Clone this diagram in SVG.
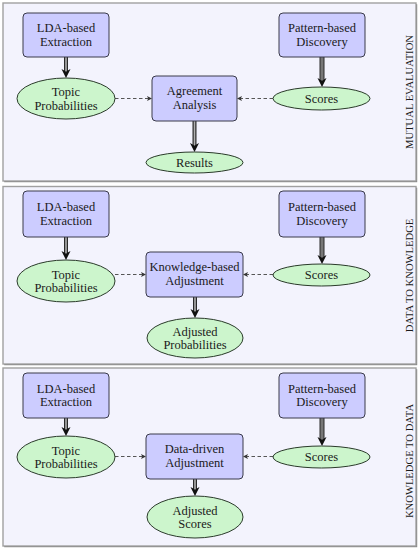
<svg xmlns="http://www.w3.org/2000/svg" width="420" height="550" viewBox="0 0 420 550">
<defs>
<marker id="ah" markerUnits="userSpaceOnUse" markerWidth="12" markerHeight="12" viewBox="-1 -6 12 12" refX="2" refY="0" orient="auto">
<path d="M0,-4.5 L9,0 L0,4.5 L2.5,0 Z" fill="#111"/>
</marker>
<marker id="ahs" markerUnits="userSpaceOnUse" markerWidth="8" markerHeight="8" viewBox="-1 -4 8 8" refX="1" refY="0" orient="auto">
<path d="M0,-2.5 L5,0 L0,2.5 L1.2,0 Z" fill="#333"/>
</marker>
</defs>
<style>
.pshadow{fill:#7a7a7a}
.panel{fill:#f3f3fd;stroke:#a0a0a0;stroke-width:1.4}
.box{fill:#ccccff;stroke:#3a3a4a;stroke-width:1}
.ell{fill:#ccf5cc;stroke:#2a3a2a;stroke-width:1}
.t{font-family:"Liberation Serif","DejaVu Serif",serif;font-size:12.5px;fill:#1a1a1a;text-anchor:middle}
.lbl{font-family:"Liberation Serif","DejaVu Serif",serif;font-size:10.6px;fill:#1a1a1a;text-anchor:middle}
.dO{fill:none;stroke:#2a2a2a;stroke-width:4}
.dI{fill:none;stroke:#b0b0b0;stroke-width:1.6}
.wO{fill:none;stroke:#2a2a2a;stroke-width:5}
.wI{fill:none;stroke:#777;stroke-width:3}
.dash{fill:none;stroke:#555;stroke-width:1.2;stroke-dasharray:3.5,2.5}
</style>

<g id="panels">
<rect class="pshadow" x="4.2" y="4.2" width="413" height="178"/>
<rect class="panel" x="3" y="3" width="413" height="178"/>
<rect class="pshadow" x="4.2" y="187.7" width="413" height="177.5"/>
<rect class="panel" x="3" y="186.5" width="413" height="177.5"/>
<rect class="pshadow" x="4.2" y="369.2" width="413" height="178"/>
<rect class="panel" x="3" y="368" width="413" height="178"/>
</g>

<g id="connectors">
<line class="dO" x1="66" y1="57" x2="66" y2="71" marker-end="url(#ah)"/>
<line class="dI" x1="66" y1="57" x2="66" y2="71"/>
<line class="wO" x1="322" y1="57" x2="322" y2="80" marker-end="url(#ah)"/>
<line class="wI" x1="322" y1="57" x2="322" y2="80"/>
<line class="dash" x1="115" y1="98.5" x2="148" y2="98.5" marker-end="url(#ahs)"/>
<line class="dash" x1="273" y1="98.5" x2="241" y2="98.5" marker-end="url(#ahs)"/>
<line class="dO" x1="194.5" y1="121" x2="194.5" y2="145" marker-end="url(#ah)"/>
<line class="dI" x1="194.5" y1="121" x2="194.5" y2="145"/>
<line class="dO" x1="66" y1="237" x2="66" y2="253" marker-end="url(#ah)"/>
<line class="dI" x1="66" y1="237" x2="66" y2="253"/>
<line class="wO" x1="322" y1="237" x2="322" y2="257" marker-end="url(#ah)"/>
<line class="wI" x1="322" y1="237" x2="322" y2="257"/>
<line class="dash" x1="115" y1="274.5" x2="142" y2="274.5" marker-end="url(#ahs)"/>
<line class="dash" x1="273" y1="274.5" x2="247" y2="274.5" marker-end="url(#ahs)"/>
<line class="dO" x1="195" y1="297" x2="195" y2="311" marker-end="url(#ah)"/>
<line class="dI" x1="195" y1="297" x2="195" y2="311"/>
<line class="dO" x1="66" y1="418" x2="66" y2="429" marker-end="url(#ah)"/>
<line class="dI" x1="66" y1="418" x2="66" y2="429"/>
<line class="wO" x1="322" y1="418" x2="322" y2="439" marker-end="url(#ah)"/>
<line class="wI" x1="322" y1="418" x2="322" y2="439"/>
<line class="dash" x1="115" y1="456.5" x2="142" y2="456.5" marker-end="url(#ahs)"/>
<line class="dash" x1="273" y1="456.5" x2="247" y2="456.5" marker-end="url(#ahs)"/>
<line class="dO" x1="195" y1="479" x2="195" y2="489" marker-end="url(#ah)"/>
<line class="dI" x1="195" y1="479" x2="195" y2="489"/>
</g>

<g id="p1-lda"><rect class="box" x="23" y="13" width="86" height="44" rx="4"/><text class="t" x="66" y="32">LDA-based</text><text class="t" x="66" y="45.5">Extraction</text></g>
<g id="p1-pattern"><rect class="box" x="279" y="13" width="86" height="44" rx="4"/><text class="t" x="322" y="32">Pattern-based</text><text class="t" x="322" y="45.5">Discovery</text></g>
<g id="p1-topic"><ellipse class="ell" cx="66" cy="98.5" rx="49" ry="20.5"/><text class="t" x="66" y="96">Topic</text><text class="t" x="66" y="109.5">Probabilities</text></g>
<g id="p1-agreement"><rect class="box" x="152" y="76" width="85" height="45" rx="4"/><text class="t" x="194.5" y="95">Agreement</text><text class="t" x="194.5" y="108.5">Analysis</text></g>
<g id="p1-scores"><ellipse class="ell" cx="321.5" cy="98.5" rx="48.5" ry="11.5"/><text class="t" x="321.5" y="102.5">Scores</text></g>
<g id="p1-results"><ellipse class="ell" cx="194.5" cy="162.5" rx="48.5" ry="10.5"/><text class="t" x="194.5" y="166.5">Results</text></g>
<text class="lbl" transform="translate(413,92) rotate(-90)">MUTUAL EVALUATION</text>

<g id="p2-lda"><rect class="box" x="23" y="191" width="86" height="46" rx="4"/><text class="t" x="66" y="211">LDA-based</text><text class="t" x="66" y="224.5">Extraction</text></g>
<g id="p2-pattern"><rect class="box" x="279" y="191" width="86" height="46" rx="4"/><text class="t" x="322" y="211">Pattern-based</text><text class="t" x="322" y="224.5">Discovery</text></g>
<g id="p2-topic"><ellipse class="ell" cx="66" cy="281" rx="49" ry="21"/><text class="t" x="66" y="278.5">Topic</text><text class="t" x="66" y="292">Probabilities</text></g>
<g id="p2-kb"><rect class="box" x="146" y="252" width="97" height="45" rx="4"/><text class="t" x="194.5" y="271">Knowledge-based</text><text class="t" x="194.5" y="284.5">Adjustment</text></g>
<g id="p2-scores"><ellipse class="ell" cx="321.5" cy="275" rx="48.5" ry="11"/><text class="t" x="321.5" y="279">Scores</text></g>
<g id="p2-adjusted"><ellipse class="ell" cx="195" cy="338" rx="48" ry="20"/><text class="t" x="195" y="335.5">Adjusted</text><text class="t" x="195" y="349">Probabilities</text></g>
<text class="lbl" transform="translate(413,275.5) rotate(-90)">DATA TO KNOWLEDGE</text>

<g id="p3-lda"><rect class="box" x="23" y="373" width="86" height="45" rx="4"/><text class="t" x="66" y="392.5">LDA-based</text><text class="t" x="66" y="406">Extraction</text></g>
<g id="p3-pattern"><rect class="box" x="279" y="373" width="86" height="45" rx="4"/><text class="t" x="322" y="392.5">Pattern-based</text><text class="t" x="322" y="406">Discovery</text></g>
<g id="p3-topic"><ellipse class="ell" cx="66" cy="457" rx="49" ry="21"/><text class="t" x="66" y="454.5">Topic</text><text class="t" x="66" y="468">Probabilities</text></g>
<g id="p3-dd"><rect class="box" x="146" y="434" width="97" height="45" rx="4"/><text class="t" x="194.5" y="453">Data-driven</text><text class="t" x="194.5" y="466.5">Adjustment</text></g>
<g id="p3-scores"><ellipse class="ell" cx="321.5" cy="457" rx="48.5" ry="11"/><text class="t" x="321.5" y="461">Scores</text></g>
<g id="p3-adjusted"><ellipse class="ell" cx="195" cy="517" rx="48" ry="21"/><text class="t" x="195" y="514.5">Adjusted</text><text class="t" x="195" y="528">Scores</text></g>
<text class="lbl" transform="translate(413,461) rotate(-90)">KNOWLEDGE TO DATA</text>
</svg>
